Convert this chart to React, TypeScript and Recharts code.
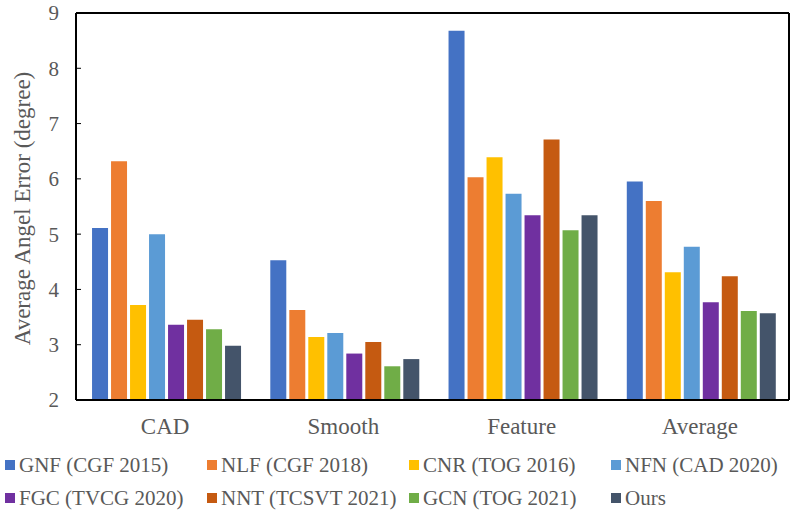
import React from 'react';
import { BarChart, Bar, XAxis, YAxis, Legend, CartesianGrid } from 'recharts';

const categories = ['CAD', 'Smooth', 'Feature', 'Average'];
const gnf = [5.11, 4.53, 8.68, 5.95];
const nlf = [6.32, 3.63, 6.03, 5.6];
const cnr = [3.72, 3.14, 6.39, 4.31];
const nfn = [5.0, 3.21, 5.73, 4.77];
const fgc = [3.36, 2.84, 5.34, 3.77];
const nnt = [3.45, 3.05, 6.71, 4.24];
const gcn = [3.28, 2.61, 5.07, 3.61];
const ours = [2.98, 2.74, 5.34, 3.57];
const yTicks = [2, 3, 4, 5, 6, 7, 8, 9];

const seriesNames = [
  'GNF (CGF 2015)',
  'NLF (CGF 2018)',
  'CNR (TOG 2016)',
  'NFN (CAD 2020)',
  'FGC (TVCG 2020)',
  'NNT (TCSVT 2021)',
  'GCN (TOG 2021)',
  'Ours',
];
const seriesValues = [gnf, nlf, cnr, nfn, fgc, nnt, gcn, ours];
const colors = ['#4472C4', '#ED7D31', '#FFC000', '#5B9BD5', '#7030A0', '#C55A11', '#70AD47', '#44546A'];

const data = categories.map((name, i) => {
  const row: Record<string, string | number> = { name };
  seriesValues.forEach((vals, s) => {
    row['s' + s] = vals[i];
  });
  return row;
});

const FONT = "'Liberation Serif', 'DejaVu Serif', serif";
const TEXT = '#595959';

const YTick = (props: any) => {
  const { x, y, payload } = props;
  return (
    <g>
      <line x1={x + 17} x2={x + 22} y1={y} y2={y} stroke="#000" strokeWidth={1} />
      <text x={x} y={y} dy="0.355em" textAnchor="end" fontFamily={FONT} fontSize={21} fill={TEXT}>
        {payload.value}
      </text>
    </g>
  );
};

const XTick = (props: any) => {
  const { x, y, payload } = props;
  return (
    <text x={x} y={y} dy="0.71em" textAnchor="middle" fontFamily={FONT} fontSize={23} fill={TEXT}>
      {payload.value}
    </text>
  );
};

const YLabel = (props: any) => {
  const vb = props.viewBox || { x: 0, y: 0, height: 0 };
  const cx = 22;
  const cy = vb.y + vb.height / 2 + 2;
  return (
    <text
      x={cx}
      y={cy}
      transform={`rotate(-90, ${cx}, ${cy})`}
      textAnchor="middle"
      dominantBaseline="central"
      fontFamily={FONT}
      fontSize={23}
      fill={TEXT}
    >
      Average Angel Error (degree)
    </text>
  );
};

const LegendContent = () => (
  <div
    style={{
      display: 'grid',
      gridTemplateColumns: 'repeat(4, 202px)',
      rowGap: 9,
      paddingLeft: 5,
      fontFamily: FONT,
      fontSize: 21,
      color: TEXT,
      lineHeight: '24px',
    }}
  >
    {seriesNames.map((n, s) => (
      <div key={n} style={{ display: 'flex', alignItems: 'center', whiteSpace: 'nowrap' }}>
        <span style={{ width: 10, height: 10, background: colors[s], display: 'inline-block', marginRight: 4 }} />
        <span>{n}</span>
      </div>
    ))}
  </div>
);

export default function App() {
  return (
    <div style={{ position: 'absolute', left: 0, top: 0, width: 794, height: 512, background: '#fff' }}>
      <BarChart
        width={794}
        height={512}
        data={data}
        margin={{ top: 13, right: 5, left: 0, bottom: 72 }}
        barCategoryGap="9%"
        barGap={3}
      >
        <CartesianGrid
          stroke="#000"
          strokeWidth={2}
          horizontalCoordinatesGenerator={(p: any) => [p.offset.top]}
          verticalCoordinatesGenerator={(p: any) => [p.offset.left + p.offset.width]}
        />
        <XAxis
          dataKey="name"
          height={40}
          tickLine={false}
          tickSize={0}
          tickMargin={18}
          axisLine={{ stroke: '#000', strokeWidth: 2 }}
          tick={<XTick />}
        />
        <YAxis
          width={76}
          type="number"
          domain={[2, 9]}
          ticks={yTicks}
          interval={0}
          tickLine={false}
          tickSize={0}
          tickMargin={17}
          axisLine={{ stroke: '#000', strokeWidth: 2 }}
          tick={<YTick />}
          label={<YLabel />}
        />
        <Legend
          layout="horizontal"
          verticalAlign="middle"
          align="center"
          wrapperStyle={{ top: 453, left: 0, width: 794 }}
          content={<LegendContent />}
        />
        {seriesNames.map((n, s) => (
          <Bar key={n} dataKey={'s' + s} name={n} fill={colors[s]} isAnimationActive={false} />
        ))}
      </BarChart>
    </div>
  );
}
